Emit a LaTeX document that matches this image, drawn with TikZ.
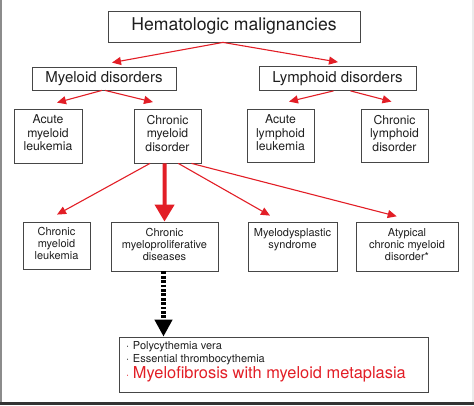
\documentclass[tikz,border=0pt]{standalone}
\usepackage{fontspec}
\setmainfont{TeX Gyre Heros}
\usetikzlibrary{arrows.meta,calc}
\definecolor{ared}{RGB}{226,30,38}
\definecolor{bdr}{RGB}{70,70,70}
\definecolor{txt}{RGB}{30,30,30}
\newcommand{\tbx}[4]{\parbox[c][#2][t]{#1}{\centering\vspace*{#3}#4\par}}
\begin{document}
\begin{tikzpicture}[x=1pt,y=-1pt,
  box/.style={draw=bdr, line width=0.8pt, inner sep=0pt, text=txt},
  rarrow/.style={draw=ared, line width=1.1pt, -{Triangle[length=9pt,width=8pt]}},
  bigarrow/.style={draw=ared, line width=4pt, -{Triangle[length=17pt,width=19pt]}},
  dotarrow/.style={draw=black, line width=4.5pt, dash pattern=on 2.7pt off 1.7pt, -{Triangle[length=17pt,width=17pt]}},
  fA/.style={font=\fontsize{12.2}{13.5}\selectfont},
  fB/.style={font=\fontsize{11}{12}\selectfont}]
\useasboundingbox (0,0) rectangle (474,405);
% frame
\fill[black!45] (0,0) rectangle (2,402);
\fill[black!8] (472,0) rectangle (474,402);
\fill[black!80] (0,402) rectangle (474,405);
% level 0
\node[box, minimum width=252pt, minimum height=31pt, font=\fontsize{17.6}{20}\selectfont] (hem) at (234,26.5) {Hematologic malignancies};
% level 1
\node[box, minimum width=144pt, minimum height=23pt, font=\fontsize{15}{18}\selectfont] (mye) at (104,78.5) {Myeloid disorders};
\node[box, minimum width=157pt, minimum height=24pt, font=\fontsize{15}{18}\selectfont] (lym) at (337.5,78.5) {Lymphoid disorders};
% level 2
\node[box, fA] (aml) at (48,136) {\tbx{68pt}{54pt}{6pt}{Acute\\myeloid\\leukemia}};
\node[box, fA] (cmd) at (167.5,136) {\tbx{67pt}{54pt}{6pt}{Chronic\\myeloid\\disorder}};
\node[box, fA] (all) at (280.5,135.5) {\tbx{67pt}{53pt}{6pt}{Acute\\lymphoid\\leukemia}};
\node[box, fA] (cld) at (394.5,135.5) {\tbx{67pt}{53pt}{6pt}{Chronic\\lymphoid\\disorder}};
% level 3
\node[box, fB] (cml) at (56.5,245.5) {\tbx{67pt}{47pt}{5.5pt}{Chronic\\myeloid\\leukemia}};
\node[box, fB] (cmpd) at (164.5,246.5) {\tbx{107pt}{49pt}{6pt}{Chronic\\myeloproliferative\\diseases}};
\node[box, fB] (mds) at (292.5,246.5) {\tbx{89pt}{49pt}{6pt}{Myelodysplastic\\syndrome}};
\node[box, fB] (acmd) at (407,246.5) {\tbx{102pt}{49pt}{6pt}{Atypical\\chronic myeloid\\disorder*}};
% level 4
\node[box] (mpn) at (273.5,364.5) {\parbox[c][55pt][t]{309pt}{\raggedright\vspace*{4pt}%
{\fontsize{11}{13}\selectfont\noindent\hspace*{7pt}·\hspace{3.9pt}Polycythemia vera\par
\noindent\hspace*{7pt}·\hspace{3.9pt}Essential thrombocythemia\par}
{\fontsize{16.4}{16}\selectfont\noindent\hspace*{7pt}\color{ared}{\fontsize{11}{13}\selectfont·}\hspace{3.9pt}Myelofibrosis with myeloid metaplasia\par}}};
% connectors
\draw[rarrow] ($(hem.south)+(-11,0)$) -- ($(mye.north)+(8,-4)$);
\draw[rarrow] ($(hem.south)+(-11,0)$) -- ($(lym.north)+(0.5,-4)$);
\draw[rarrow] ($(mye.south)+(-2,0)$) -- ($(aml.north)+(9,-6)$);
\draw[rarrow] ($(mye.south)+(1,0)$) -- ($(cmd.north)+(-14.5,-6.5)$);
\draw[rarrow] ($(lym.south)+(-4,0)$) -- ($(all.north)+(8.5,-7)$);
\draw[rarrow] ($(lym.south)+(13,0)$) -- ($(cld.north)+(-3,-7)$);
\draw[rarrow] ($(cmd.south)+(-17.5,0)$) -- ($(cml.north)+(0.5,-7)$);
\draw[bigarrow] ($(cmd.south)+(-2.8,0)$) -- ($(cmpd.north)+(0,0)$);
\draw[rarrow] ($(cmd.south)+(10.8,0)$) -- ($(mds.north)+(-22.5,-6)$);
\draw[rarrow] ($(cmd.south)+(24,0)$) -- ($(acmd.north)+(-10.3,-5.3)$);
\draw[dotarrow] ($(cmpd.south)+(-1,0)$) -- ($(mpn.north)+(-110,0)$);
\end{tikzpicture}
\end{document}
